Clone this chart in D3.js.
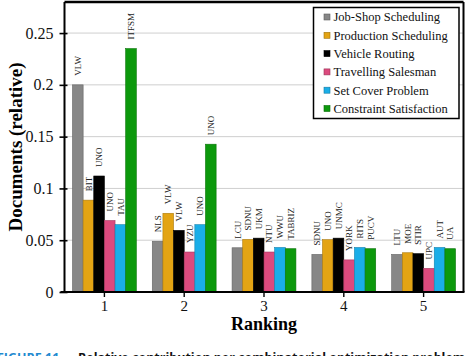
<!DOCTYPE html>
<html><head><meta charset="utf-8">
<script src="https://cdn.jsdelivr.net/npm/d3@7"></script>
<style>body{margin:0;background:#fff;overflow:hidden}</style>
</head><body><svg id="c" width="474" height="356"></svg>
<script>
const rankings = ["1","2","3","4","5"];
const series = ["Job-Shop Scheduling","Production Scheduling","Vehicle Routing","Travelling Salesman","Set Cover Problem","Constraint Satisfaction"];
const colors = ["#878787","#e3a414","#000000","#dc4a7e","#1aaee8","#0c990c"];
const jobShop      = [0.200, 0.049, 0.0427, 0.0363, 0.0363];
const production   = [0.0887, 0.076, 0.0508, 0.0505, 0.0379];
const vehicle      = [0.112, 0.0595, 0.052, 0.052, 0.037];
const travelling   = [0.069, 0.0386, 0.0386, 0.031, 0.0228];
const setCover     = [0.065, 0.065, 0.043, 0.043, 0.043];
const constraint   = [0.235, 0.1427, 0.0418, 0.0418, 0.0418];
const labJobShop    = ["VLW","NLS","LCU","SDNU","LTU"];
const labProduction = ["BIT","VLW","SDNU","UNO","MOE"];
const labVehicle    = ["UNO","VLW","UKM","UNMC","STIR"];
const labTravelling = ["UNO","YZU","NTU","YORK","UPC"];
const labSetCover   = ["TAU","UNO","WWU","RITS","AUT"];
const labConstraint = ["ITFSM","UNO","TABRIZ","PUCV","UA"];
const yTicks = [0, 0.05, 0.1, 0.15, 0.2, 0.25];

const values = [jobShop, production, vehicle, travelling, setCover, constraint];
const labels = [labJobShop, labProduction, labVehicle, labTravelling, labSetCover, labConstraint];

const svg = d3.select("#c");
const L = 64.5, R = 463.5, T = 2, B = 292;
const x0 = d3.scaleBand().domain(rankings).range([L, R]).paddingInner(0.2).paddingOuter(0.1);
const x1 = d3.scaleBand().domain(series).range([0, x0.bandwidth()]);
const y = d3.scaleLinear().domain([0, 0.28]).range([B, T]);
const serif = "'Liberation Serif','Times New Roman',serif";

// gridlines
svg.append("g").selectAll("line").data(yTicks.filter(d => d > 0)).join("line")
  .attr("x1", L).attr("x2", R).attr("y1", d => y(d)).attr("y2", d => y(d))
  .attr("stroke", "#cfcfcf").attr("stroke-width", 1);

// bars
const groups = svg.append("g").selectAll("g").data(rankings).join("g")
  .attr("transform", d => `translate(${x0(d)},0)`);
groups.each(function(r, ri) {
  const g = d3.select(this);
  series.forEach((s, si) => {
    const v = values[si][ri];
    g.append("rect").attr("x", x1(s)).attr("width", x1.bandwidth())
      .attr("y", y(v)).attr("height", B - y(v))
      .attr("fill", colors[si])
      .attr("stroke", d3.color(colors[si]).darker(0.8)).attr("stroke-width", 0.6);
    const cx = x1(s) + x1.bandwidth() / 2;
    const ty = y(v) - 9;
    g.append("text").attr("transform", `translate(${cx},${ty}) rotate(-90)`)
      .attr("dy", "0.35em").attr("text-anchor", "start")
      .attr("font-family", serif).attr("font-size", 9).attr("fill", "#222")
      .text(labels[si][ri]);
  });
});

// frame
svg.append("line").attr("x1", L).attr("x2", R).attr("y1", T).attr("y2", T).attr("stroke", "#000").attr("stroke-width", 2.5);
svg.append("line").attr("x1", R).attr("x2", R).attr("y1", T).attr("y2", B).attr("stroke", "#000").attr("stroke-width", 2);

// y axis
const yAxis = svg.append("g").attr("transform", `translate(${L},0)`)
  .call(d3.axisLeft(y).tickValues(yTicks).tickSize(5).tickPadding(6).tickFormat(d => d === 0 ? "0" : String(d)));
yAxis.select(".domain").attr("stroke-width", 2).attr("d", `M0,${T}V${B}`);
yAxis.selectAll(".tick line").attr("x2", -5).attr("x1", 3).attr("stroke-width", 1.6);
yAxis.selectAll(".tick text").attr("font-family", serif).attr("font-size", 16).attr("fill", "#111");

// x axis
const xAxis = svg.append("g").attr("transform", `translate(0,${B})`)
  .call(d3.axisBottom(x0).tickSize(5).tickPadding(3).tickSizeOuter(0));
xAxis.select(".domain").attr("stroke-width", 2).attr("d", `M${L - 4},0H${R + 1}`);
xAxis.selectAll(".tick line").attr("stroke-width", 1.4);
xAxis.selectAll(".tick text").attr("font-family", serif).attr("font-size", 15).attr("fill", "#111");

// axis titles
svg.append("text").attr("transform", `translate(22,${(T + B) / 2}) rotate(-90)`)
  .attr("text-anchor", "middle").attr("font-family", serif).attr("font-weight", "bold")
  .attr("font-size", 19).text("Documents (relative)");
svg.append("text").attr("x", (L + R) / 2).attr("y", 329.5)
  .attr("text-anchor", "middle").attr("font-family", serif).attr("font-weight", "bold")
  .attr("font-size", 18).text("Ranking");

// legend
const lg = svg.append("g").attr("transform", "translate(313.5,7.5)");
lg.append("rect").attr("width", 145.5).attr("height", 111).attr("fill", "#fff").attr("stroke", "#000").attr("stroke-width", 1.5);
series.forEach((s, i) => {
  const yy = 9.5 + i * 18.3;
  lg.append("rect").attr("x", 10.5).attr("y", yy - 3).attr("width", 6).attr("height", 6)
    .attr("fill", colors[i]).attr("stroke", d3.color(colors[i]).darker(1)).attr("stroke-width", 0.6);
  lg.append("text").attr("x", 20).attr("y", yy).attr("dy", "0.35em")
    .attr("font-family", serif).attr("font-size", 12.5).attr("fill", "#111").text(s);
});

// caption (cut off at bottom, as in the source figure)
const cap = svg.append("text").attr("x", -3).attr("y", 362)
  .attr("font-family", "'Open Sans','DejaVu Sans',sans-serif").attr("font-weight", "bold").attr("font-size", 12.5);
cap.append("tspan").attr("fill", "#1f8ad0").text("FIGURE 11.");
cap.append("tspan").attr("fill", "#111").attr("x", 78).text("Relative contribution per combinatorial optimization problem");
</script></body></html>
